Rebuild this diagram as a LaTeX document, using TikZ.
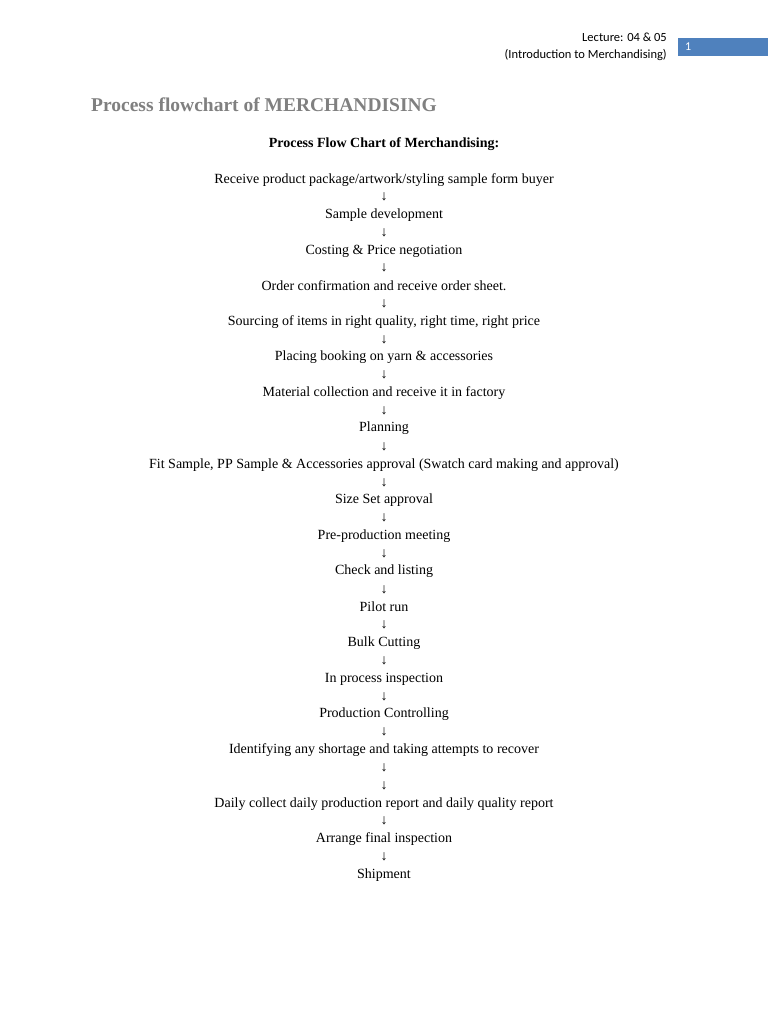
\documentclass[tikz,border=0pt]{standalone}
\usepackage{fontspec}
\setmainfont{Liberation Serif}
\newfontfamily\calib{Carlito}
\definecolor{hdrblue}{RGB}{79,129,189}
\definecolor{ttlgray}{RGB}{128,128,128}
\begin{document}
\begin{tikzpicture}[x=1pt,y=-1pt,
  stepline/.style={font=\fontsize{14}{16}\selectfont, inner sep=0pt, anchor=center},
  arr/.style={font=\fontsize{14}{16}\selectfont, inner sep=0pt, anchor=center}]
\useasboundingbox (0,0) rectangle (768,1024);
\fill[white] (0,0) rectangle (768,1024);
\node[font=\calib\fontsize{12.5}{14}\selectfont, anchor=east, inner sep=0pt] (h1) at (667,37) {Lecture: 04 \& 05};
\node[font=\calib\fontsize{12.5}{14}\selectfont, anchor=east, inner sep=0pt] (h2) at (667,55) {(Introduction to Merchandising)};
\fill[hdrblue] (678,38) rectangle (768,56);
\node[font=\calib\fontsize{12}{14}\selectfont, text=white, anchor=west, inner sep=0pt] (pg) at (685,47) {1};
\node[font=\fontsize{19.5}{22}\selectfont\bfseries, text=ttlgray, anchor=west, inner sep=0pt] (ttl) at (91,105) {Process flowchart of MERCHANDISING};
\node[font=\fontsize{14}{16}\selectfont\bfseries, inner sep=0pt] (sub) at (384,144) {Process Flow Chart of Merchandising:};
\foreach \y/\t [count=\i] in {
180/{Receive product package/artwork/styling sample form buyer},
215/{Sample development},
251/{Costing \& Price negotiation},
286/{Order confirmation and receive order sheet.},
322/{Sourcing of items in right quality, right time, right price},
357/{Placing booking on yarn \& accessories},
393/{Material collection and receive it in factory},
428/{Planning},
465/{Fit Sample, PP Sample \& Accessories approval (Swatch card making and approval)},
500/{Size Set approval},
536/{Pre-production meeting},
571/{Check and listing},
607/{Pilot run},
643/{Bulk Cutting},
679/{In process inspection},
714/{Production Controlling},
750/{Identifying any shortage and taking attempts to recover},
804/{Daily collect daily production report and daily quality report},
839/{Arrange final inspection},
875/{Shipment}}
  \node[stepline] (s\i) at (384,\y) {\t};
\foreach \y [count=\i] in {197,233,268,304,340,375,411,447,483,518,554,590,625,661,697,732,768,786,821,857}
  \node[arr] (a\i) at (384,\y) {↓};
\end{tikzpicture}
\end{document}
